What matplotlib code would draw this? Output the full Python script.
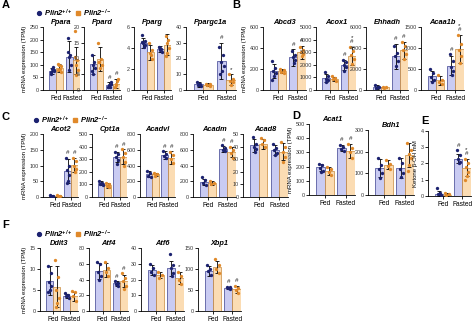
import matplotlib
matplotlib.use("Agg")
import matplotlib.pyplot as plt
from matplotlib.lines import Line2D

plt.rcParams['font.family'] = ['Liberation Sans', 'DejaVu Sans']
plt.rcParams['mathtext.fontset'] = 'custom'
plt.rcParams['mathtext.bf'] = 'Liberation Sans:bold:italic'
plt.rcParams['mathtext.rm'] = 'Liberation Sans:bold:italic'
plt.rcParams['mathtext.it'] = 'Liberation Sans:bold:italic'

W, H = 474, 333

groups = ["Fed", "Fasted"]
genotypes = ["Plin2+/+", "Plin2-/-"]

# ---- data: per gene -> means, sd, dots, annotations (order: Fed WT, Fed KO, Fasted WT, Fasted KO)
Ppara_mean = [76, 88, 132, 118]
Ppara_sd = [12, 17, 61, 53]
Ppara_pts = [[70, 78, 85, 75, 90, 65], [80, 95, 100, 70, 85, 105], [205, 140, 130, 100, 80, 150], [233, 120, 100, 80, 60, 130]]
Ppara_ann = ["", "", "", ""]

Ppard_mean = [8.2, 9.7, 1.5, 2.0]
Ppard_sd = [3.0, 3.8, 1.0, 1.5]
Ppard_pts = [[11, 9, 8, 7, 5, 6], [15, 10, 9, 8, 7, 9], [1, 2, 1.5, 2.5, 1], [1, 3, 2, 3.5, 1.5]]
Ppard_ann = ["", "", "#", "#"]

Pparg_mean = [4.5, 3.6, 3.9, 4.3]
Pparg_sd = [0.5, 0.7, 0.3, 1.0]
Pparg_pts = [[5.2, 4.7, 4.5, 4.3, 4.1, 4.6], [4.5, 3.8, 3.5, 3.0, 3.3], [4.1, 3.9, 3.8, 3.6, 4.0], [5.1, 4.8, 4.5, 4.0, 3.5, 3.2]]
Pparg_ann = ["", "", "", ""]

Ppargc1a_mean = [3.5, 3.3, 18.5, 6.5]
Ppargc1a_sd = [1.5, 1.0, 11.5, 3.5]
Ppargc1a_pts = [[5, 4, 3, 2.5, 3.5], [4, 3.5, 3, 2.5], [27, 22, 18, 15, 12, 10], [10, 7, 6, 5, 3]]
Ppargc1a_ann = ["", "", "#", "*"]

Abcd3_mean = [180, 180, 310, 360]
Abcd3_sd = [70, 20, 80, 60]
Abcd3_pts = [[280, 210, 180, 160, 130, 100], [200, 190, 175, 160], [370, 330, 310, 290, 260], [410, 380, 360, 340, 320]]
Abcd3_ann = ["", "", "#", "#"]

Acox1_mean = [950, 900, 2000, 2700]
Acox1_sd = [350, 150, 400, 750]
Acox1_pts = [[1400, 1100, 900, 800, 600], [1100, 950, 850, 750], [2400, 2200, 2000, 1800, 1500], [3400, 3100, 2800, 2500, 2100]]
Acox1_ann = ["", "", "#", "*\n#"]

Ehhadh_mean = [300, 250, 3200, 3800]
Ehhadh_sd = [200, 50, 1200, 800]
Ehhadh_pts = [[500, 300, 200, 250], [300, 250, 200], [4200, 3500, 3200, 2800, 2300], [4600, 4200, 3800, 3400, 3000]]
Ehhadh_ann = ["", "", "#", "#"]

Acaa1b_mean = [330, 230, 580, 980]
Acaa1b_sd = [120, 100, 220, 330]
Acaa1b_pts = [[500, 400, 300, 250, 200], [350, 250, 200, 150], [850, 700, 550, 450, 350], [1300, 1100, 950, 800, 650]]
Acaa1b_ann = ["", "", "#", "*\n#"]

Acot2_mean = [3, 3, 82, 102]
Acot2_sd = [2, 2, 38, 23]
Acot2_pts = [[5, 3, 2], [5, 3, 2], [125, 100, 85, 70, 50, 45], [125, 115, 100, 90, 80]]
Acot2_ann = ["", "", "#", "#"]

Cpt1a_mean = [110, 95, 320, 320]
Cpt1a_sd = [15, 20, 40, 60]
Cpt1a_pts = [[125, 115, 105, 95], [115, 100, 85, 80], [360, 340, 320, 290, 260], [380, 350, 320, 280, 250]]
Cpt1a_ann = ["", "", "#", "#"]

Acadvl_mean = [290, 290, 530, 500]
Acadvl_sd = [40, 20, 50, 80]
Acadvl_pts = [[330, 300, 270, 250], [310, 290, 270], [580, 550, 520, 490], [570, 530, 480, 430]]
Acadvl_ann = ["", "", "#", "#"]

Acadm_mean = [190, 175, 610, 570]
Acadm_sd = [40, 25, 40, 60]
Acadm_pts = [[250, 210, 180, 150], [200, 180, 160], [660, 620, 600, 580], [640, 600, 560, 500]]
Acadm_ann = ["", "", "#", "#"]

Acad8_mean = [41, 42, 37.5, 36]
Acad8_sd = [5, 4, 4, 7]
Acad8_pts = [[48, 42, 40, 38, 36], [47, 45, 42, 40], [42, 39, 37, 35, 33], [44, 40, 36, 32, 28]]
Acad8_ann = ["", "", "", ""]

Acat1_mean = [195, 170, 330, 310]
Acat1_sd = [25, 30, 20, 50]
Acat1_pts = [[220, 210, 190, 170, 160], [200, 180, 160, 140], [350, 335, 325, 310], [360, 330, 300, 260]]
Acat1_ann = ["", "", "#", "#"]

Bdh1_mean = [125, 140, 125, 185]
Bdh1_sd = [40, 20, 45, 55]
Bdh1_pts = [[170, 140, 120, 100, 80], [160, 145, 135, 120], [170, 150, 120, 100, 85], [240, 210, 190, 170, 140, 110]]
Bdh1_ann = ["", "", "", ""]

Ketone_mean = [0.15, 0.08, 2.3, 1.75]
Ketone_sd = [0.15, 0.08, 0.3, 0.5]
Ketone_pts = [[0.5, 0.2, 0.1, 0.05], [0.2, 0.1, 0.05], [2.8, 2.5, 2.3, 2.1, 2.0], [2.3, 2.0, 1.8, 1.5, 1.2, 1.0]]
Ketone_ann = ["", "", "#", "*\n#"]

Ddit3_mean = [7.2, 5.8, 3.6, 3.5]
Ddit3_sd = [3.5, 4.8, 0.5, 1.0]
Ddit3_pts = [[10.8, 9, 7, 6, 5, 4.5], [12.2, 8, 5, 3, 2, 1], [4.2, 3.8, 3.5, 3.0], [4.7, 4.5, 3.5, 2.5]]
Ddit3_ann = ["", "", "", ""]

Atf4_mean = [51, 52, 35, 38]
Atf4_sd = [10, 9, 3, 8]
Atf4_pts = [[62, 60, 50, 45, 40], [62, 55, 50, 45], [38, 36, 34, 32], [48, 42, 38, 32, 28]]
Atf4_ann = ["", "", "#", "#"]

Atf6_mean = [26, 23, 27, 21]
Atf6_sd = [3, 2, 5, 4]
Atf6_pts = [[30, 27, 25, 23], [25, 23, 21], [36, 29, 27, 24, 22], [25, 22, 20, 17]]
Atf6_ann = ["", "", "", "*"]

Xbp1_mean = [96, 104, 55, 52]
Xbp1_sd = [12, 14, 3, 8]
Xbp1_pts = [[110, 100, 95, 85], [125, 110, 100, 90], [58, 56, 54, 52], [60, 55, 50, 42]]
Xbp1_ann = ["", "", "#", "#"]

# ---- styles
BAR_FILL = ["#c9cbf2", "#fbdcb3"]
BAR_EDGE = ["#3a3f8f", "#c98a3c"]
DOT = ["#1c2270", "#e0892a"]
XPOS = [0, 1, 2.4, 3.4]
JIT = [-0.22, 0.18, -0.08, 0.24, 0.02, -0.18, 0.12]

def px_axes(fig, l, t, r, b):
    return fig.add_axes([l / W, 1 - b / H, (r - l) / W, (b - t) / H])

def panel(fig, box, title, mean, sd, pts, ann, ymax, ystep, ylabel=None):
    ax = px_axes(fig, *box)
    for i in range(4):
        g = i % 2
        ax.bar(XPOS[i], mean[i], width=1.0, color=BAR_FILL[g], edgecolor=BAR_EDGE[g], linewidth=0.5, zorder=1)
        ax.errorbar(XPOS[i], mean[i], yerr=sd[i], color="black", capsize=1.5, elinewidth=0.6, capthick=0.6, zorder=3)
        xs = [XPOS[i] + JIT[k % len(JIT)] for k in range(len(pts[i]))]
        ax.plot(xs, pts[i], 'o', color=DOT[g], markersize=2.4, markeredgewidth=0, zorder=4)
        if ann[i]:
            top = max(mean[i] + sd[i], max(pts[i]))
            ax.text(XPOS[i], top + ymax * 0.04, ann[i], ha='center', va='bottom', fontsize=4.5,
                    linespacing=0.8, color="#222222", clip_on=False)
    ax.set_xlim(-1.35, 3.95)
    ax.set_ylim(0, ymax)
    ticks = []
    v = 0
    while v <= ymax + 1e-9:
        ticks.append(v)
        v += ystep
    ax.set_yticks(ticks)
    ax.set_yticklabels([f"{t:g}" for t in ticks])
    ax.set_xticks([0.5, 2.9])
    ax.set_xticklabels(groups)
    ax.tick_params(axis='x', labelsize=4.8, length=2, width=0.6, pad=1.5)
    ax.tick_params(axis='y', labelsize=3.9, length=2, width=0.6, pad=1, labelcolor="#333333")
    for s in ['top', 'right']:
        ax.spines[s].set_visible(False)
    for s in ['left', 'bottom']:
        ax.spines[s].set_linewidth(0.6)
    ax.set_title(title, fontsize=5.3, fontweight='bold', fontstyle='italic', pad=2)
    if ylabel:
        ax.set_ylabel(ylabel, fontsize=4.3, labelpad=2)
    return ax

fig = plt.figure(figsize=(W / 100, H / 100), dpi=100)
YL = "mRNA expression (TPM)"

# Row A
panel(fig, (43, 27, 80, 90), "Ppara", Ppara_mean, Ppara_sd, Ppara_pts, Ppara_ann, 250, 50, YL)
panel(fig, (84, 27, 120, 90), "Ppard", Ppard_mean, Ppard_sd, Ppard_pts, Ppard_ann, 20, 5)
panel(fig, (134, 27, 171, 90), "Pparg", Pparg_mean, Pparg_sd, Pparg_pts, Pparg_ann, 6, 2)
panel(fig, (186, 27, 236, 90), "Ppargc1a", Ppargc1a_mean, Ppargc1a_sd, Ppargc1a_pts, Ppargc1a_ann, 40, 10)
# Row B
panel(fig, (263, 27, 306, 90), "Abcd3", Abcd3_mean, Abcd3_sd, Abcd3_pts, Abcd3_ann, 600, 200, YL)
panel(fig, (316, 27, 356, 90), "Acox1", Acox1_mean, Acox1_sd, Acox1_pts, Acox1_ann, 5000, 1000)
panel(fig, (366, 27, 408, 90), "Ehhadh", Ehhadh_mean, Ehhadh_sd, Ehhadh_pts, Ehhadh_ann, 6000, 2000)
panel(fig, (421, 27, 464, 90), "Acaa1b", Acaa1b_mean, Acaa1b_sd, Acaa1b_pts, Acaa1b_ann, 1500, 500)
# Row C
panel(fig, (43, 134, 78, 197), "Acot2", Acot2_mean, Acot2_sd, Acot2_pts, Acot2_ann, 200, 50, YL)
panel(fig, (92, 134, 127, 197), "Cpt1a", Cpt1a_mean, Cpt1a_sd, Cpt1a_pts, Cpt1a_ann, 500, 100)
panel(fig, (140, 134, 175, 197), "Acadvl", Acadvl_mean, Acadvl_sd, Acadvl_pts, Acadvl_ann, 800, 200)
panel(fig, (193, 134, 236, 197), "Acadm", Acadm_mean, Acadm_sd, Acadm_pts, Acadm_ann, 800, 200)
panel(fig, (243, 134, 288, 197), "Acad8", Acad8_mean, Acad8_sd, Acad8_pts, Acad8_ann, 50, 10)
# Row D / E
panel(fig, (309, 124, 355, 195), "Acat1", Acat1_mean, Acat1_sd, Acat1_pts, Acat1_ann, 500, 100, YL)
panel(fig, (368, 130, 414, 195), "Bdh1", Bdh1_mean, Bdh1_sd, Bdh1_pts, Bdh1_ann, 300, 100)
axE = panel(fig, (428, 131, 471, 196), "", Ketone_mean, Ketone_sd, Ketone_pts, Ketone_ann, 4, 1, "Ketone β-OH mM")
# Row F
panel(fig, (40, 248, 78, 311), "Ddit3", Ddit3_mean, Ddit3_sd, Ddit3_pts, Ddit3_ann, 15, 5, YL)
panel(fig, (89, 248, 128, 311), "Atf4", Atf4_mean, Atf4_sd, Atf4_pts, Atf4_ann, 80, 20)
panel(fig, (141, 248, 184, 311), "Atf6", Atf6_mean, Atf6_sd, Atf6_pts, Atf6_ann, 40, 10)
panel(fig, (198, 248, 241, 311), "Xbp1", Xbp1_mean, Xbp1_sd, Xbp1_pts, Xbp1_ann, 150, 50)

# Legends
def legend(x, y):
    fig.add_artist(Line2D([x / W], [1 - y / H], marker='o', color=DOT[0], markersize=2.8, linestyle='none',
                          transform=fig.transFigure))
    fig.text((x + 5) / W, 1 - y / H, r"$\mathbf{Plin2^{+/+}}$", fontsize=5.4, va='center', ha='left')
    fig.add_artist(Line2D([(x + 39) / W], [1 - y / H], marker='s', color=DOT[1], markersize=2.8, linestyle='none',
                          transform=fig.transFigure))
    fig.text((x + 44) / W, 1 - y / H, r"$\mathbf{Plin2^{-/-}}$", fontsize=5.4, va='center', ha='left')

legend(39, 13)
legend(36, 120)
legend(39, 234)

# Panel letters
for lab, x, y in [("A", 2, 5), ("B", 232, 5), ("C", 2, 117), ("D", 292, 116), ("E", 421, 121), ("F", 2, 225)]:
    fig.text(x / W, 1 - y / H, lab, fontsize=8, fontweight='bold', va='center', ha='left')

fig.savefig("out.png", dpi=100)
